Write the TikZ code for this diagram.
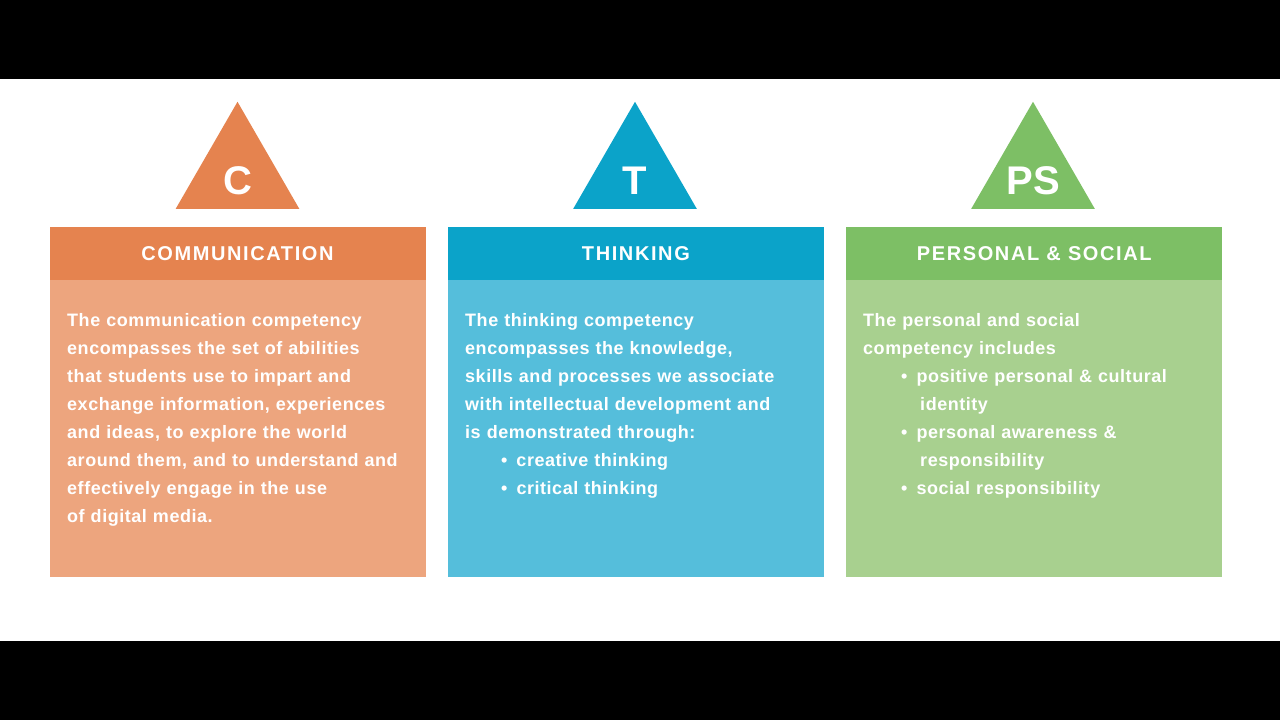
\documentclass[tikz,border=0pt]{standalone}
\usepackage{fontspec}
\setmainfont{Liberation Sans}
\usetikzlibrary{shapes.geometric,positioning}
\definecolor{comhead}{HTML}{E5834F}
\definecolor{combody}{HTML}{EDA57E}
\definecolor{thkhead}{HTML}{0BA3C9}
\definecolor{thkbody}{HTML}{55BEDB}
\definecolor{pshead}{HTML}{7DBF65}
\definecolor{psbody}{HTML}{A8D08F}
\tikzset{
  head/.style={rectangle, inner sep=0pt, minimum width=376pt, minimum height=53pt, text=white,
    font=\bfseries\fontsize{20}{24}\selectfont\addfontfeature{LetterSpace=8}},
  body/.style={rectangle, inner sep=0pt, minimum width=376pt, minimum height=297pt, below=0pt of #1},
  bodytext/.style={anchor=north west, inner sep=0pt, text=white, align=left, text width=350pt,
    font=\bfseries\fontsize{18}{28}\selectfont\addfontfeature{LetterSpace=3}},
  tri/.style={isosceles triangle, isosceles triangle apex angle=60, shape border rotate=90,
    inner sep=0pt, minimum height=107pt, text=white, font=\bfseries\fontsize{40}{40}\selectfont}
}
\newcommand{\bul}[1]{\hspace*{#1}•\hspace{9pt}}
\begin{document}
\begin{tikzpicture}[x=1pt,y=1pt]
  \fill[black] (0,0) rectangle (1280,720);
  \fill[white] (0,79) rectangle (1280,641);
  \useasboundingbox (0,0) rectangle (1280,720);

  % column C
  \node[head, fill=comhead] (comh) at (237.5,466.5) {COMMUNICATION};
  \node[body=comh, fill=combody] (comb) {};
  \node[tri, fill=comhead, anchor=south] (comt) at (237.5,511) {};
  \node[text=white, font=\bfseries\fontsize{40}{40}\selectfont] at (237.5,539) {C};
  \node[bodytext] (combt) at (67,407) {The communication competency\\
    encompasses the set of abilities\\ that students use to impart and\\
    exchange information, experiences\\ and ideas, to explore the world\\
    around them, and to understand and\\ effectively engage in the use\\ of digital media.};

  % column T
  \node[head, fill=thkhead, right=22pt of comh] (thkh) {THINKING};
  \node[body=thkh, fill=thkbody] (thkb) {};
  \node[tri, fill=thkhead, anchor=south] (thkt) at (635,511) {};
  \node[text=white, font=\bfseries\fontsize{40}{40}\selectfont] at (635,539) {T};
  \node[bodytext] (thkbt) at (465,407) {The thinking competency\\
    encompasses the knowledge,\\ skills and processes we associate\\
    with intellectual development and\\ is demonstrated through:\\
    \bul{36pt}creative thinking\\ \bul{36pt}critical thinking};

  % column PS
  \node[head, fill=pshead, right=22pt of thkh] (psh) {PERSONAL \& SOCIAL};
  \node[body=psh, fill=psbody] (psb) {};
  \node[tri, fill=pshead, anchor=south] (pst) at (1033,511) {};
  \node[text=white, font=\bfseries\fontsize{40}{40}\selectfont] at (1033,539) {PS};
  \node[bodytext] (psbt) at (863,407) {The personal and social\\
    competency includes\\
    \bul{38pt}positive personal \& cultural\\ \hspace*{57pt}identity\\
    \bul{38pt}personal awareness \&\\ \hspace*{57pt}responsibility\\
    \bul{38pt}social responsibility};
\end{tikzpicture}
\end{document}
